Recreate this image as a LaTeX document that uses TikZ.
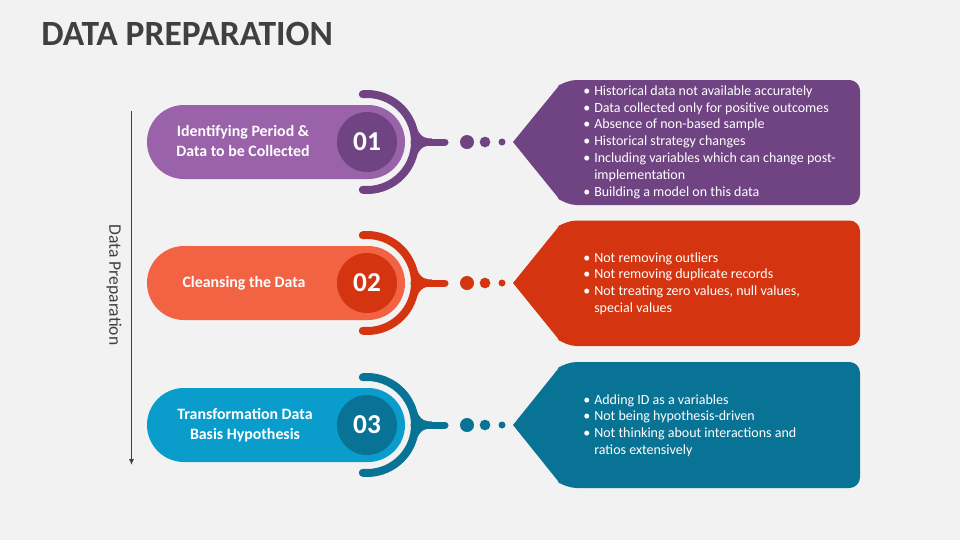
\documentclass[tikz,border=0pt]{standalone}
\usepackage{fontspec}
\setmainfont{Carlito}
\usetikzlibrary{arrows.meta,calc}
\definecolor{bgc}{HTML}{F2F2F2}
\definecolor{txtgray}{HTML}{404040}
\definecolor{purL}{HTML}{9A62A8}
\definecolor{purD}{HTML}{704483}
\definecolor{orgL}{HTML}{F26343}
\definecolor{orgD}{HTML}{D43510}
\definecolor{bluL}{HTML}{0A9DCC}
\definecolor{bluD}{HTML}{097396}
\newcommand\bitem[1]{\makebox[8.25pt][l]{\textbullet}#1}
\newcommand\bcont[1]{\hspace*{8.25pt}#1}
\begin{document}
\begin{tikzpicture}[x=0.75pt,y=-0.75pt,
  pillbox/.style={rectangle, rounded corners=27.7pt, minimum width=193.5pt, minimum height=55.5pt, inner sep=0pt},
  pilltext/.style={text=white, font=\fontsize{11.9}{15}\selectfont\bfseries, align=center, inner sep=0pt},
  numcircle/.style={circle, minimum size=45pt, inner sep=0pt, text=white, font=\fontsize{20.5}{24}\selectfont\bfseries},
  arcline/.style={line width=6pt, line cap=round},
  barline/.style={line width=5.25pt, line cap=round},
  bigdot/.style={circle, minimum size=10.5pt, inner sep=0pt},
  middot/.style={circle, minimum size=8pt, inner sep=0pt},
  smalldot/.style={circle, minimum size=5.25pt, inner sep=0pt},
  calltext/.style={text=white, font=\fontsize{10.5}{12.6}\selectfont, align=left, inner sep=0pt, anchor=west},
]
\useasboundingbox (0,0) rectangle (960,540);
\fill[bgc] (0,0) rectangle (960,540);

% title
\node[anchor=base west, inner sep=0pt, text=txtgray, font=\fontsize{26.6}{31}\selectfont\bfseries] (title) at (41,45) {DATA PREPARATION};

% axis
\coordinate (axtop) at (131.5,111);
\coordinate (axbot) at (131.5,465);
\draw[txtgray, line width=1.2pt, -{Latex[length=4.5pt,width=4pt]}] (axtop) -- (axbot);
\node[rotate=-90, text=txtgray, font=\fontsize{13.2}{16}\selectfont, inner sep=0pt] (axlabel) at (114,285) {Data Preparation};

% ---------- row 1 ----------
\node[pillbox, fill=purL] (pill1) at (276,142) {};
\node[pilltext] (pt1) at (243,141) {Identifying Period \&\\Data to be Collected};
\node[numcircle, fill=purD] (n1) at (367,142) {01};
\draw[arcline, purD] ([shift={(95:48)}]n1.center) arc[start angle=95, end angle=-95, radius=48];
\fill[purD] (414,122) .. controls (419,134) and (421,138.5) .. (432,138.5) -- (432,145.5) .. controls (421,145.5) and (419,150) .. (414,162) -- cycle;
\coordinate (b1) at (445,142);
\draw[barline, purD] ([shift={(47,0)}]n1.center) -- (b1);
\node[bigdot, fill=purD] (d1a) at (467,142) {};
\node[middot, fill=purD] (d1b) at (485,142) {};
\node[smalldot, fill=purD] (d1c) at (502,142) {};
\fill[purD] (513,142) -- (560,84.5) [rounded corners=8pt] -- (566,80) -- (860,80) -- (860,205) -- (566,205) [sharp corners] -- (560,200) -- cycle;
\node[calltext] (t1) at (583,142) {\bitem{Historical data not available accurately}\\
\bitem{Data collected only for positive outcomes}\\
\bitem{Absence of non-based sample}\\
\bitem{Historical strategy changes}\\
\bitem{Including variables which can change post-}\\
\bcont{implementation}\\
\bitem{Building a model on this data}};

% ---------- row 2 ----------
\node[pillbox, fill=orgL] (pill2) at (276,283) {};
\node[pilltext] (pt2) at (244,283) {Cleansing the Data};
\node[numcircle, fill=orgD] (n2) at (367,283) {02};
\draw[arcline, orgD] ([shift={(95:48)}]n2.center) arc[start angle=95, end angle=-95, radius=48];
\fill[orgD] (414,263) .. controls (419,275) and (421,279.5) .. (432,279.5) -- (432,286.5) .. controls (421,286.5) and (419,291) .. (414,303) -- cycle;
\coordinate (b2) at (445,283);
\draw[barline, orgD] ([shift={(47,0)}]n2.center) -- (b2);
\node[bigdot, fill=orgD] (d2a) at (467,283) {};
\node[middot, fill=orgD] (d2b) at (485,283) {};
\node[smalldot, fill=orgD] (d2c) at (502,283) {};
\fill[orgD] (513,283) -- (560,225) [rounded corners=8pt] -- (566,220.5) -- (860,220.5) -- (860,346) -- (566,346) [sharp corners] -- (560,341) -- cycle;
\node[calltext] (t2) at (583,283.5) {\bitem{Not removing outliers}\\
\bitem{Not removing duplicate records}\\
\bitem{Not treating zero values, null values,}\\
\bcont{special values}};

% ---------- row 3 ----------
\node[pillbox, fill=bluL] (pill3) at (276,425) {};
\node[pilltext] (pt3) at (245,425) {Transformation Data\\Basis Hypothesis};
\node[numcircle, fill=bluD] (n3) at (367,425) {03};
\draw[arcline, bluD] ([shift={(95:48)}]n3.center) arc[start angle=95, end angle=-95, radius=48];
\fill[bluD] (414,405) .. controls (419,417) and (421,421.5) .. (432,421.5) -- (432,428.5) .. controls (421,428.5) and (419,433) .. (414,445) -- cycle;
\coordinate (b3) at (445,425);
\draw[barline, bluD] ([shift={(47,0)}]n3.center) -- (b3);
\node[bigdot, fill=bluD] (d3a) at (467,425) {};
\node[middot, fill=bluD] (d3b) at (485,425) {};
\node[smalldot, fill=bluD] (d3c) at (502,425) {};
\fill[bluD] (513,425) -- (560,366.5) [rounded corners=8pt] -- (566,362) -- (860,362) -- (860,488) -- (566,488) [sharp corners] -- (560,483.5) -- cycle;
\node[calltext] (t3) at (583,425.5) {\bitem{Adding ID as a variables}\\
\bitem{Not being hypothesis-driven}\\
\bitem{Not thinking about interactions and}\\
\bcont{ratios extensively}};
\end{tikzpicture}
\end{document}
